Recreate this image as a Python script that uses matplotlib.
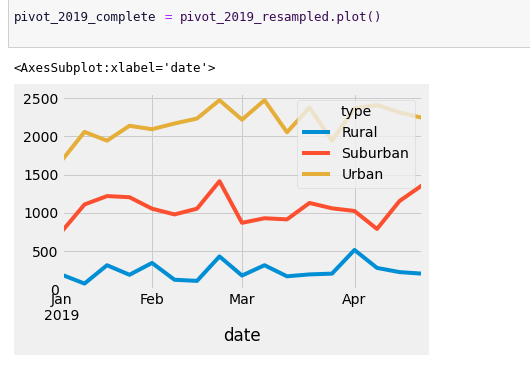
import pandas as pd
import matplotlib.pyplot as plt
from matplotlib.patches import Rectangle

plt.style.use('fivethirtyeight')

# weekly fare totals by city type
weeks = pd.date_range('2019-01-06', periods=17, freq='W')
rural = [190, 75, 315, 190, 345, 125, 110, 430, 180, 315, 170, 195, 205, 515, 280, 225, 205]
suburban = [760, 1110, 1220, 1205, 1055, 980, 1055, 1415, 870, 930, 915, 1130, 1060, 1025, 790, 1155, 1360]
urban = [1690, 2060, 1945, 2140, 2095, 2170, 2235, 2475, 2220, 2475, 2055, 2380, 1945, 2370, 2410, 2315, 2245]

pivot_2019_resampled = pd.DataFrame({'Rural': rural, 'Suburban': suburban, 'Urban': urban},
                                    index=pd.Index(weeks, name='date'))
pivot_2019_resampled.columns.name = 'type'

W, H = 530, 367
fig = plt.figure(figsize=(W / 72, H / 72), dpi=72, facecolor='white')

# notebook cell chrome
fig.patches.append(Rectangle((8 / W, 1 - 47 / H), 530 / W, 60 / H, transform=fig.transFigure,
                             facecolor='#f7f7f7', edgecolor='#cfcfcf', linewidth=1, zorder=-2))
fs = 12.5
cw = 0.602 * fs  # monospace char width in px at 72 dpi
code_kw = dict(family='DejaVu Sans Mono', fontsize=fs, va='baseline')
fig.text(14 / W, 1 - 21 / H, 'pivot_2019_complete', color='#101030', **code_kw)
fig.text((14 + 20 * cw) / W, 1 - 21 / H, '=', color='#aa22ff', **code_kw)
fig.text((14 + 22 * cw) / W, 1 - 21 / H, 'pivot_2019_resampled.plot()', color='#3a0a55', **code_kw)
fig.text(14 / W, 1 - 72 / H, "<AxesSubplot:xlabel='date'>", color='#000000', **code_kw)

# plot image background
fig.patches.append(Rectangle((14 / W, 1 - 355 / H), 415 / W, 271 / H, transform=fig.transFigure,
                             facecolor='#f0f0f0', edgecolor='none', zorder=-2))

ax = fig.add_axes([62 / W, 1 - 289.3 / H, 360 / W, 196.6 / H])
pivot_2019_resampled.plot(ax=ax)
ax.set_ylim(0, 2573)
ax.set_yticks([0, 500, 1000, 1500, 2000, 2500])
ax.legend(title='type', loc='upper right', title_fontsize=14)

fig.savefig('out.png', dpi=72, facecolor='white')
